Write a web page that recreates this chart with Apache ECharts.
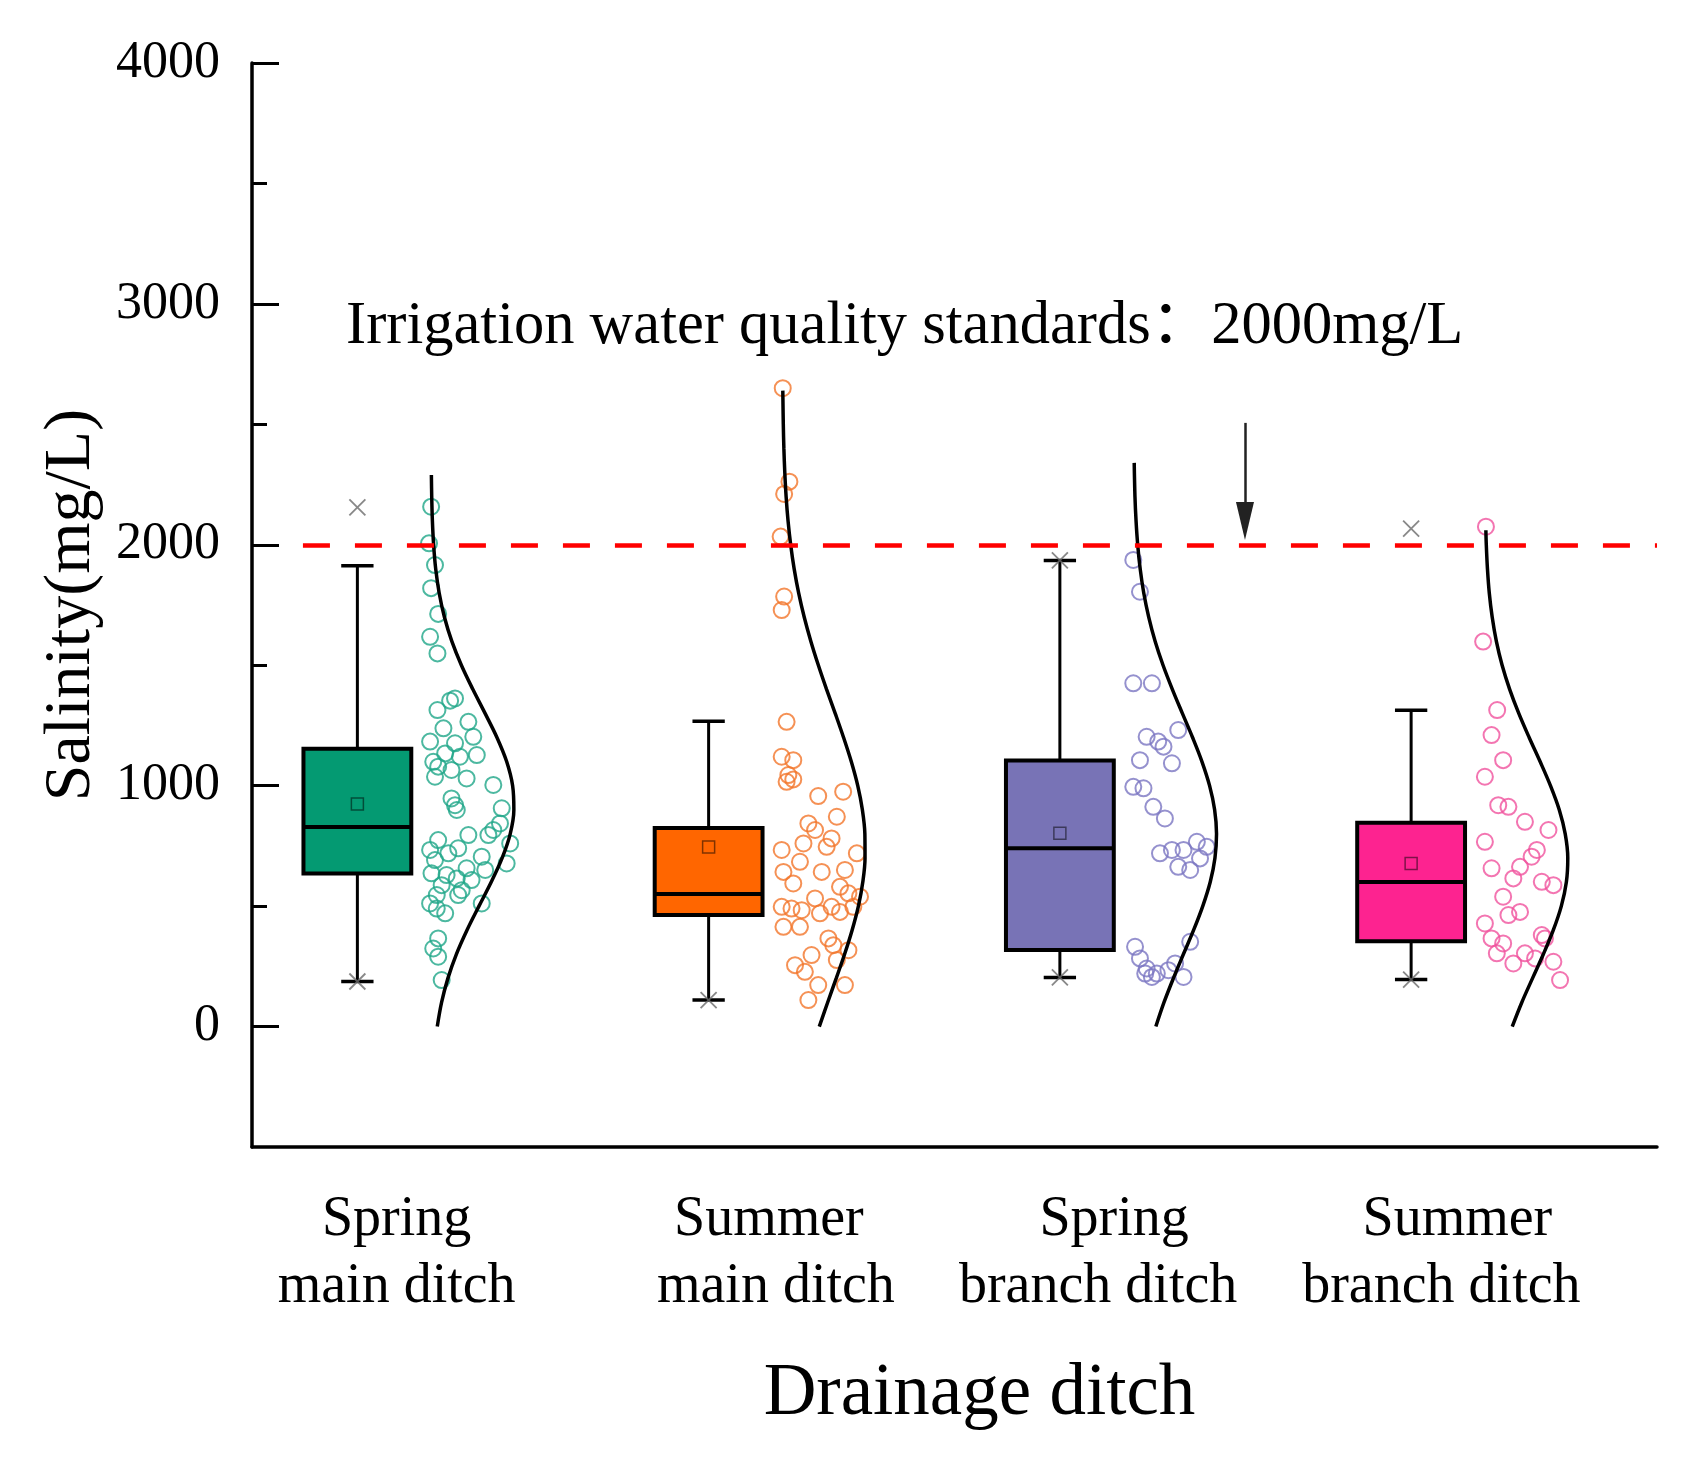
<!DOCTYPE html>
<html><head><meta charset="utf-8">
<script src="https://cdn.jsdelivr.net/npm/echarts@6/dist/echarts.min.js"></script>
<style>html,body{margin:0;padding:0;background:#fff}#c{width:1694px;height:1461px}</style>
</head><body><div id="c"></div>
<script>
// ---------------- DATA ----------------
const categories = ['Spring\nmain ditch', 'Summer\nmain ditch', 'Spring\nbranch ditch', 'Summer\nbranch ditch'];
const yTickValues = [0, 1000, 2000, 3000, 4000];
const yMinorTickValues = [500, 1500, 2500, 3500];
const threshold = 2000;
const annotationText = 'Irrigation water quality standards\uFF1A2000mg/L';

// box stats: [whisker low, Q1, median, Q3, whisker high]
const boxStats = [
  [187, 635, 828, 1153, 1913],
  [110, 463, 550, 824, 1267],
  [204, 318, 740, 1104, 1935],
  [195, 354, 600, 846, 1313]
];
const means = [924, 745, 802, 677];
const extremes = [[2155, 187], [110], [1935, 204], [2067, 195]];

// raw samples (value) and their horizontal jitter (fraction of category band)
const springMainVals = [2158,2006,1916,1820,1713,1618,1549,1362,1353,1314,1265,1238,1203,1183,1176,1134,1127,1120,1099,1079,1065,1037,1030,1003,947,919,899,906,843,816,795,795,774,760,733,740,719,705,677,691,657,650,636,629,615,608,587,566,546,511,546,511,470,490,366,324,290,193];
const springMainJit = [0.010,0.004,0.021,0.010,0.030,0.007,0.028,0.078,0.064,0.028,0.116,0.045,0.130,0.007,0.078,0.050,0.140,0.092,0.016,0.030,0.068,0.021,0.111,0.187,0.068,0.078,0.083,0.211,0.206,0.187,0.173,0.116,0.030,0.235,0.007,0.087,0.059,0.154,0.225,0.021,0.111,0.164,0.011,0.054,0.083,0.125,0.040,0.097,0.026,0.154,0.087,0.007,0.050,0.026,0.030,0.016,0.030,0.040];

const summerMainVals = [2650,2262,2211,2034,1785,1729,1265,1120,1106,1044,1016,1026,957,975,871,843,816,781,760,746,733,719,684,642,642,650,594,580,539,553,532,497,490,483,497,497,470,476,414,414,366,338,317,297,255,276,227,172,172,110];
const summerMainJit = [0.011,0.030,0.015,0.005,0.015,0.008,0.022,0.008,0.041,0.027,0.022,0.041,0.112,0.183,0.165,0.084,0.103,0.150,0.070,0.136,0.008,0.222,0.060,0.013,0.122,0.188,0.041,0.174,0.231,0.198,0.103,0.008,0.036,0.065,0.150,0.212,0.117,0.174,0.013,0.060,0.141,0.155,0.198,0.093,0.046,0.165,0.074,0.112,0.188,0.084];

const springBranchVals = [1937,1805,1425,1425,1231,1203,1183,1162,1106,1093,995,989,912,864,719,733,733,767,746,698,663,650,331,352,283,241,220,234,262,206,206,220];
const springBranchJit = [0.009,0.028,0.009,0.062,0.137,0.047,0.080,0.095,0.028,0.119,0.009,0.038,0.066,0.099,0.085,0.119,0.152,0.190,0.218,0.199,0.137,0.171,0.014,0.171,0.028,0.047,0.076,0.109,0.128,0.152,0.062,0.043];

const summerBranchVals = [2075,1598,1314,1210,1106,1037,919,912,850,816,767,733,705,663,657,615,601,587,539,476,463,428,366,345,366,304,262,304,283,269,193,380];
const summerBranchJit = [0.013,0.005,0.045,0.029,0.062,0.010,0.048,0.077,0.124,0.191,0.010,0.158,0.143,0.110,0.029,0.091,0.172,0.205,0.062,0.110,0.077,0.010,0.029,0.062,0.181,0.044,0.091,0.124,0.153,0.205,0.224,0.172];

// distribution curves: value and relative width (peak = 1)
const curveSpringMainV = [0,100,200,300,400,500,600,700,800,900,1000,1100,1200,1300,1400,1500,1600,1700,1800,1900,2000,2100,2200,2290];
const curveSpringMainD = [0.074,0.126,0.202,0.304,0.432,0.577,0.725,0.857,0.954,0.998,0.983,0.911,0.794,0.651,0.503,0.365,0.249,0.160,0.097,0.055,0.030,0.015,0.007,0.003];
const curveSummerMainV = [0,100,200,300,400,500,600,700,800,900,1000,1100,1200,1300,1400,1500,1600,1700,1800,1900,2000,2100,2200,2300,2400,2500,2640];
const curveSummerMainD = [0.445,0.546,0.649,0.750,0.841,0.917,0.970,0.997,0.995,0.965,0.909,0.831,0.738,0.637,0.533,0.434,0.343,0.263,0.196,0.142,0.100,0.068,0.045,0.029,0.018,0.011,0.005];
const curveSpringBranchV = [0,100,200,300,400,500,600,700,800,900,1000,1100,1200,1300,1400,1500,1600,1700,1800,1900,2000,2100,2200,2340];
const curveSpringBranchD = [0.268,0.366,0.479,0.600,0.723,0.834,0.924,0.981,1.000,0.977,0.916,0.824,0.711,0.588,0.467,0.355,0.259,0.182,0.122,0.079,0.049,0.029,0.016,0.007];
const curveSummerBranchV = [0,100,200,300,400,500,600,700,800,900,1000,1100,1200,1300,1400,1500,1600,1700,1800,1900,2000,2060];
const curveSummerBranchD = [0.330,0.445,0.574,0.705,0.825,0.922,0.983,1.000,0.969,0.897,0.791,0.666,0.534,0.409,0.299,0.208,0.138,0.088,0.053,0.031,0.017,0.012];

// ---------------- STYLE / LAYOUT ----------------
const FONT = "'Liberation Serif','Times New Roman','Noto Sans CJK SC',serif";
const BOX_COLORS = ['#049a72', '#ff6600', '#7873b6', '#fd2390'];
const DOT_COLORS = ['#1fa688', '#f2762a', '#7a76c2', '#f0529d'];
const BOX_OFFSET = -0.2, BOX_W = 0.307, CAP_W = 0.092;
const CURVE_BASE = 0.01, CURVE_W = 0.236;

const samples = [
  [springMainVals, springMainJit], [summerMainVals, summerMainJit],
  [springBranchVals, springBranchJit], [summerBranchVals, summerBranchJit]
];
const curves = [
  [curveSpringMainV, curveSpringMainD], [curveSummerMainV, curveSummerMainD],
  [curveSpringBranchV, curveSpringBranchD], [curveSummerBranchV, curveSummerBranchD]
];

const boxData = boxStats.map((s, i) => [i + 0.5 + BOX_OFFSET].concat(s, [means[i]]));

function renderBox(params, api) {
  const x = api.value(0);
  const vals = [1,2,3,4,5,6].map(k => api.coord([x, api.value(k)]));
  const [pLo, pQ1, pMed, pQ3, pHi, pMean] = vals;
  const cx = pLo[0];
  const half = api.size([BOX_W, 0])[0] / 2;
  const capHalf = api.size([CAP_W, 0])[0] / 2;
  const color = BOX_COLORS[params.dataIndex];
  const ln = { stroke: '#000', lineWidth: 3 };
  return {
    type: 'group', children: [
      { type: 'line', shape: { x1: cx, y1: pHi[1], x2: cx, y2: pQ3[1] }, style: ln },
      { type: 'line', shape: { x1: cx, y1: pQ1[1], x2: cx, y2: pLo[1] }, style: ln },
      { type: 'line', shape: { x1: cx - capHalf, y1: pHi[1], x2: cx + capHalf, y2: pHi[1] }, style: { stroke: '#000', lineWidth: 3.5 } },
      { type: 'line', shape: { x1: cx - capHalf, y1: pLo[1], x2: cx + capHalf, y2: pLo[1] }, style: { stroke: '#000', lineWidth: 3.5 } },
      { type: 'rect', shape: { x: cx - half, y: pQ3[1], width: 2 * half, height: pQ1[1] - pQ3[1] },
        style: { fill: color, stroke: '#000', lineWidth: 4 } },
      { type: 'line', shape: { x1: cx - half, y1: pMed[1], x2: cx + half, y2: pMed[1] },
        style: { stroke: '#000', lineWidth: 4 } },
      { type: 'rect', shape: { x: cx - 6, y: pMean[1] - 6, width: 12, height: 12 },
        style: { fill: 'none', stroke: 'rgba(0,0,0,0.5)', lineWidth: 1.5 } }
    ]
  };
}

const series = [];
series.push({
  type: 'custom', xAxisIndex: 1, yAxisIndex: 0, renderItem: renderBox,
  data: boxData, z: 2, silent: true
});
series.push({
  type: 'scatter', xAxisIndex: 1, yAxisIndex: 0, z: 4, silent: true,
  symbol: 'path://M0,0L10,10M10,0L0,10', symbolSize: 16,
  itemStyle: { color: 'rgba(0,0,0,0)', borderColor: '#6a6a6a', borderWidth: 1.8 },
  data: extremes.flatMap((arr, i) => arr.map(v => [i + 0.5 + BOX_OFFSET, v]))
});
samples.forEach(([vals, jit], i) => {
  series.push({
    type: 'scatter', xAxisIndex: 1, yAxisIndex: 0, z: 2, silent: true,
    symbol: 'circle', symbolSize: 16,
    itemStyle: { color: 'rgba(0,0,0,0)', borderColor: DOT_COLORS[i], borderWidth: 2 },
    data: vals.map((v, k) => [i + 0.5 + jit[k], v])
  });
});
curves.forEach(([vs, ds], i) => {
  const s = {
    type: 'line', xAxisIndex: 1, yAxisIndex: 0, z: 3, silent: true,
    showSymbol: false, symbol: 'none', smooth: 0.35,
    lineStyle: { color: '#000', width: 3.5 },
    data: vs.map((v, k) => [i + 0.5 + CURVE_BASE + ds[k] * CURVE_W, v])
  };
  if (i === 3) {
    s.markLine = {
      silent: true, symbol: ['none', 'none'], z: 6, label: { show: false },
      data: [
        [{ coord: [0.145, threshold], lineStyle: { color: '#ff0000', width: 4.5, type: [27, 25] } },
         { coord: [4, threshold] }],
        [{ coord: [2.827, 2506], symbol: 'none', lineStyle: { color: '#222', width: 2.5, type: 'solid' } },
         { coord: [2.827, 2099], symbol: 'triangle', symbolSize: [18, 38], itemStyle: { color: '#111' } }]
      ]
    };
  }
  series.push(s);
});

// per-line label shifts (rich padding)
const labelShift = [[62, 62], [20, 6], [32, 64], [48, 80]];
const rich = {};
labelShift.forEach((pair, i) => pair.forEach((p, j) => {
  rich['p' + i + j] = { padding: [0, p, 0, 0], lineHeight: 67, fontSize: 56, fontFamily: FONT, color: '#000' };
}));

const option = {
  animation: false,
  backgroundColor: '#fff',
  grid: { left: 252, top: 63, width: 1405, height: 1084 },
  xAxis: [{
    type: 'category', data: categories, boundaryGap: true,
    axisLine: { onZero: false, lineStyle: { color: '#000', width: 3.5 } },
    axisTick: { alignWithLabel: true, length: 22, lineStyle: { color: '#000', width: 2.5 } },
    axisLabel: {
      interval: 0, margin: 40, fontSize: 56, fontFamily: FONT, color: '#000', lineHeight: 67,
      formatter: (val, idx) => val.split('\n').map((l, j) => '{p' + idx + j + '|' + l + '}').join('\n'),
      rich: rich
    },
    splitLine: { show: false },
    name: 'Drainage ditch', nameLocation: 'middle', nameGap: 211,
    nameTextStyle: { fontSize: 73, fontFamily: FONT, color: '#000', lineHeight: 73, padding: [0, 0, 0, 50] }
  }, {
    type: 'value', min: 0, max: 4, show: false
  }],
  yAxis: [{
    type: 'value', min: -500, max: 4000, interval: 500,
    axisLine: { show: true, onZero: false, lineStyle: { color: '#000', width: 3.5 } },
    axisTick: { show: true, inside: true, length: 27, customValues: yTickValues, lineStyle: { color: '#000', width: 3 } },
    axisLabel: { customValues: yTickValues, margin: 32, fontSize: 52, fontFamily: FONT, color: '#000',
      formatter: v => String(v) },
    splitLine: { show: false },
    name: 'Salinity(mg/L)', nameLocation: 'middle', nameGap: 144, nameRotate: 90,
    nameTextStyle: { fontSize: 66, fontFamily: FONT, color: '#000', lineHeight: 66 }
  }, {
    type: 'value', min: -500, max: 4000, interval: 500, position: 'left',
    axisLine: { show: false },
    axisTick: { show: true, inside: true, length: 15, customValues: yMinorTickValues, lineStyle: { color: '#000', width: 3 } },
    axisLabel: { show: false },
    splitLine: { show: false }
  }],
  graphic: [{
    type: 'text', x: 346, y: 327, silent: true,
    style: { text: annotationText, fontSize: 60.5, fontFamily: FONT, fill: '#000', verticalAlign: 'middle', align: 'left' }
  }],
  series: series
};

const chart = echarts.init(document.getElementById('c'), null, { renderer: 'canvas' });
chart.setOption(option);
</script>
</body></html>
